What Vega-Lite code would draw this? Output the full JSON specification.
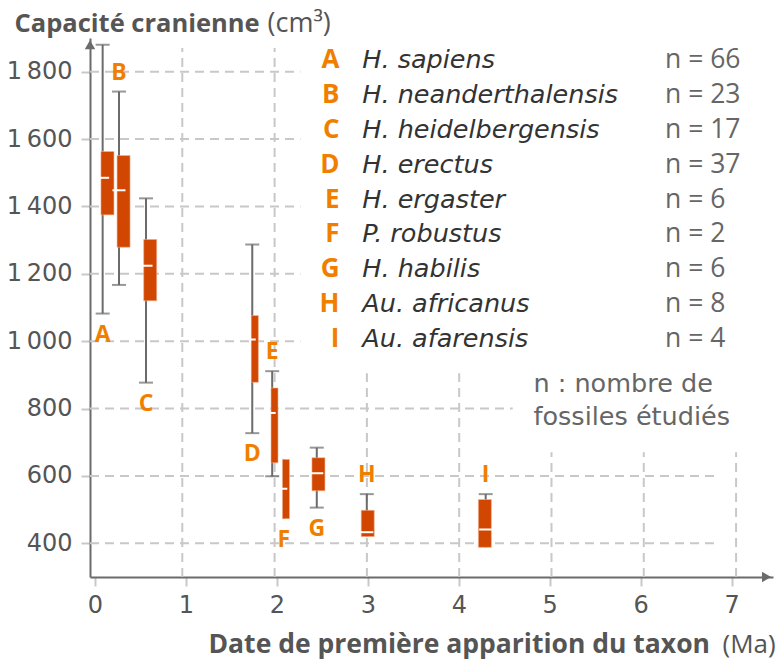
{
  "$schema": "https://vega.github.io/schema/vega-lite/v6.json",
  "width": 683,
  "height": 539,
  "autosize": "none",
  "padding": {"left": 90, "top": 38, "right": 3, "bottom": 88},
  "background": "white",
  "config": {
    "view": {"stroke": null},
    "font": "Open Sans",
    "text": {"font": "Open Sans"}
  },
  "datasets": {
    "boites": [
      {"lettre": "A", "date": 0.137, "min": 1082, "q1": 1375, "mediane": 1485, "q3": 1563, "max": 1880, "place": "dessous", "espace": "normal"},
      {"lettre": "B", "date": 0.314, "min": 1167, "q1": 1279, "mediane": 1448, "q3": 1551, "max": 1741, "place": "dessus", "espace": "normal"},
      {"lettre": "C", "date": 0.607, "min": 877, "q1": 1120, "mediane": 1224, "q3": 1302, "max": 1424, "place": "dessous", "espace": "normal"},
      {"lettre": "D", "date": 1.758, "min": 727, "q1": 878, "mediane": 1005, "q3": 1076, "max": 1287, "place": "dessous", "espace": "serre"},
      {"lettre": "E", "date": 1.974, "min": 599, "q1": 639, "mediane": 787, "q3": 861, "max": 911, "place": "dessus", "espace": "serre"},
      {"lettre": "F", "date": 2.1, "min": 473, "q1": 473, "mediane": 562, "q3": 649, "max": 649, "place": "dessous", "espace": "serre"},
      {"lettre": "G", "date": 2.457, "min": 506, "q1": 556, "mediane": 608, "q3": 654, "max": 684, "place": "dessous", "espace": "normal"},
      {"lettre": "H", "date": 2.999, "min": 420, "q1": 420, "mediane": 433, "q3": 498, "max": 546, "place": "dessus", "espace": "normal"},
      {"lettre": "I", "date": 4.287, "min": 388, "q1": 388, "mediane": 441, "q3": 530, "max": 546, "place": "dessus", "espace": "normal"}
    ],
    "legende": [
      {"lettre": "A", "taxon": "H. sapiens", "effectif": "n = 66"},
      {"lettre": "B", "taxon": "H. neanderthalensis", "effectif": "n = 23"},
      {"lettre": "C", "taxon": "H. heidelbergensis", "effectif": "n = 17"},
      {"lettre": "D", "taxon": "H. erectus", "effectif": "n = 37"},
      {"lettre": "E", "taxon": "H. ergaster", "effectif": "n = 6"},
      {"lettre": "F", "taxon": "P. robustus", "effectif": "n = 2"},
      {"lettre": "G", "taxon": "H. habilis", "effectif": "n = 6"},
      {"lettre": "H", "taxon": "Au. africanus", "effectif": "n = 8"},
      {"lettre": "I", "taxon": "Au. afarensis", "effectif": "n = 4"}
    ],
    "grilleH": [
      {"valeur": 1800, "debut": 0, "fin": 2.28},
      {"valeur": 1600, "debut": 0, "fin": 2.28},
      {"valeur": 1400, "debut": 0, "fin": 2.28},
      {"valeur": 1200, "debut": 0, "fin": 2.28},
      {"valeur": 1000, "debut": 0, "fin": 2.28},
      {"valeur": 800, "debut": 0, "fin": 4.58},
      {"valeur": 600, "debut": 0, "fin": 6.8},
      {"valeur": 400, "debut": 0, "fin": 6.8}
    ],
    "grilleV": [
      {"valeur": 1, "bas": 300, "haut": 1870},
      {"valeur": 2, "bas": 300, "haut": 1870},
      {"valeur": 3, "bas": 300, "haut": 905},
      {"valeur": 4, "bas": 300, "haut": 905},
      {"valeur": 5, "bas": 300, "haut": 670},
      {"valeur": 6, "bas": 300, "haut": 670},
      {"valeur": 7, "bas": 300, "haut": 670}
    ]
  },
  "layer": [
    {
      "data": {"name": "grilleH"},
      "mark": {"type": "rule", "color": "#c8c8c8", "strokeWidth": 2, "strokeDash": [9, 6]},
      "encoding": {
        "x": {"field": "debut", "type": "quantitative", "scale": {"domain": [0, 7.4], "nice": false}, "axis": null},
        "x2": {"field": "fin"},
        "y": {"field": "valeur", "type": "quantitative", "scale": {"domain": [300, 1900], "nice": false}, "axis": null}
      }
    },
    {
      "data": {"name": "grilleV"},
      "mark": {"type": "rule", "color": "#c8c8c8", "strokeWidth": 2, "strokeDash": [9, 6]},
      "encoding": {
        "x": {"field": "valeur", "type": "quantitative", "scale": {"domain": [0, 7.4], "nice": false}, "axis": null},
        "y": {"field": "bas", "type": "quantitative", "scale": {"domain": [300, 1900], "nice": false}, "axis": null},
        "y2": {"field": "haut"}
      }
    },
    {
      "data": {"name": "boites"},
      "mark": {"type": "rule", "color": "#6b6b6b", "strokeWidth": 2},
      "encoding": {
        "x": {"field": "date", "type": "quantitative", "scale": {"domain": [0, 7.4], "nice": false},
          "axis": {"orient": "bottom", "labels": false, "ticks": false, "domain": false, "grid": false,
            "title": "(Ma)", "titleFont": "Open Sans", "titleFontSize": 26, "titleFontWeight": "normal", "titleColor": "#555555",
            "titleAlign": "left", "titleBaseline": "alphabetic", "titleX": 632, "titleY": 75}},
        "y": {"field": "min", "type": "quantitative", "scale": {"domain": [300, 1900], "nice": false},
          "axis": {"orient": "left", "labels": false, "ticks": false, "domain": false, "grid": false,
            "title": "(cm³)", "titleFont": "Open Sans", "titleFontSize": 27, "titleFontWeight": "normal", "titleColor": "#555555",
            "titleAngle": 0, "titleAlign": "left", "titleBaseline": "alphabetic", "titleX": 177, "titleY": -7}},
        "y2": {"field": "max"}
      }
    },
    {
      "data": {"name": "boites"},
      "transform": [{"filter": "datum.max > datum.q3"}],
      "mark": {"type": "tick", "orient": "horizontal", "color": "#6b6b6b", "thickness": 2, "size": 14},
      "encoding": {
        "x": {"field": "date", "type": "quantitative", "scale": {"domain": [0, 7.4], "nice": false}, "axis": null},
        "y": {"field": "max", "type": "quantitative", "scale": {"domain": [300, 1900], "nice": false}, "axis": null}
      }
    },
    {
      "data": {"name": "boites"},
      "transform": [{"filter": "datum.min < datum.q1"}],
      "mark": {"type": "tick", "orient": "horizontal", "color": "#6b6b6b", "thickness": 2, "size": 14},
      "encoding": {
        "x": {"field": "date", "type": "quantitative", "scale": {"domain": [0, 7.4], "nice": false}, "axis": null},
        "y": {"field": "min", "type": "quantitative", "scale": {"domain": [300, 1900], "nice": false}, "axis": null}
      }
    },
    {
      "data": {"name": "boites"},
      "mark": {"type": "bar", "color": "#d14600", "stroke": "#f2b190", "strokeWidth": 0.6},
      "encoding": {
        "x": {"field": "date", "type": "quantitative", "scale": {"domain": [0, 7.4], "nice": false},
          "axis": {"orient": "bottom", "values": [0, 1, 2, 3, 4, 5, 6, 7], "grid": false,
            "domainColor": "#6b6b6b", "domainWidth": 2,
            "tickColor": "#c8c8c8", "tickWidth": 2, "tickSize": 13, "tickDash": [9, 6],
            "labelFont": "DejaVu Sans", "labelFontSize": 24, "labelColor": "#555555", "labelPadding": 3,
            "title": "Date de première apparition du taxon", "titleFont": "Open Sans", "titleFontSize": 26.5,
            "titleFontWeight": "bold", "titleColor": "#555555",
            "titleAlign": "left", "titleBaseline": "alphabetic", "titleX": 118, "titleY": 75}},
        "y": {"field": "q1", "type": "quantitative", "scale": {"domain": [300, 1900], "nice": false},
          "axis": {"orient": "left", "values": [400, 600, 800, 1000, 1200, 1400, 1600, 1800], "grid": false,
            "labelExpr": "datum.value >= 1000 ? replace(format(datum.value, ','), ',', '\u2009') : format(datum.value, 'd')",
            "domainColor": "#6b6b6b", "domainWidth": 2,
            "tickColor": "#c8c8c8", "tickWidth": 2, "tickSize": 11, "tickDash": [9, 6],
            "labelFont": "DejaVu Sans", "labelFontSize": 24, "labelColor": "#555555", "labelPadding": 7,
            "title": "Capacité cranienne", "titleFont": "Open Sans", "titleFontSize": 25.5,
            "titleFontWeight": "bold", "titleColor": "#555555",
            "titleAngle": 0, "titleAlign": "left", "titleBaseline": "alphabetic", "titleX": -76, "titleY": -7}},
        "y2": {"field": "q3"},
        "size": {"field": "espace", "type": "nominal", "scale": {"domain": ["normal", "serre"], "range": [13, 7]}, "legend": null}
      }
    },
    {
      "data": {"name": "boites"},
      "mark": {"type": "tick", "orient": "horizontal", "color": "white", "thickness": 2, "opacity": 1},
      "encoding": {
        "x": {"field": "date", "type": "quantitative", "scale": {"domain": [0, 7.4], "nice": false}, "axis": null},
        "y": {"field": "mediane", "type": "quantitative", "scale": {"domain": [300, 1900], "nice": false}, "axis": null},
        "size": {"field": "espace", "type": "nominal", "scale": {"domain": ["normal", "serre"], "range": [13, 7]}, "legend": null}
      }
    },
    {
      "data": {"name": "boites"},
      "transform": [{"filter": "datum.place == 'dessous'"}],
      "mark": {"type": "text", "color": "#f07f00", "font": "Open Sans", "fontSize": 23, "fontWeight": "bold", "baseline": "middle", "dy": 21},
      "encoding": {
        "x": {"field": "date", "type": "quantitative", "scale": {"domain": [0, 7.4], "nice": false}, "axis": null},
        "y": {"field": "min", "type": "quantitative", "scale": {"domain": [300, 1900], "nice": false}, "axis": null},
        "text": {"field": "lettre", "type": "nominal"}
      }
    },
    {
      "data": {"name": "boites"},
      "transform": [{"filter": "datum.place == 'dessus'"}],
      "mark": {"type": "text", "color": "#f07f00", "font": "Open Sans", "fontSize": 23, "fontWeight": "bold", "baseline": "middle", "dy": -19},
      "encoding": {
        "x": {"field": "date", "type": "quantitative", "scale": {"domain": [0, 7.4], "nice": false}, "axis": null},
        "y": {"field": "max", "type": "quantitative", "scale": {"domain": [300, 1900], "nice": false}, "axis": null},
        "text": {"field": "lettre", "type": "nominal"}
      }
    },
    {
      "data": {"values": [{}]},
      "mark": {"type": "text", "color": "#666666", "font": "DejaVu Sans", "fontSize": 25.5, "align": "left", "baseline": "alphabetic", "lineBreak": "\n", "lineHeight": 33,
        "text": "n : nombre de\nfossiles étudiés"},
      "encoding": {
        "x": {"datum": 4.805, "type": "quantitative", "scale": {"domain": [0, 7.4], "nice": false}, "axis": null},
        "y": {"datum": 849, "type": "quantitative", "scale": {"domain": [300, 1900], "nice": false}, "axis": null}
      }
    },
    {
      "data": {"values": [{}]},
      "mark": {"type": "point", "shape": "triangle-right", "filled": true, "color": "#6b6b6b", "opacity": 1, "size": 110},
      "encoding": {
        "x": {"datum": 7.33, "type": "quantitative", "scale": {"domain": [0, 7.4], "nice": false}, "axis": null},
        "y": {"datum": 300, "type": "quantitative", "scale": {"domain": [300, 1900], "nice": false}, "axis": null}
      }
    },
    {
      "data": {"values": [{}]},
      "mark": {"type": "point", "shape": "triangle-up", "filled": true, "color": "#6b6b6b", "opacity": 1, "size": 110},
      "encoding": {
        "x": {"datum": 0, "type": "quantitative", "scale": {"domain": [0, 7.4], "nice": false}, "axis": null},
        "y": {"datum": 1880, "type": "quantitative", "scale": {"domain": [300, 1900], "nice": false}, "axis": null}
      }
    },
    {
      "data": {"name": "legende"},
      "mark": {"type": "text", "align": "right", "baseline": "alphabetic", "font": "Open Sans", "fontSize": 26, "fontWeight": "bold", "color": "#f07f00"},
      "encoding": {
        "x": {"datum": 2.703, "type": "quantitative", "scale": {"domain": [0, 7.4], "nice": false}, "axis": null},
        "y": {"field": "lettre", "type": "ordinal", "scale": {"type": "point", "range": [30.3, 308.7], "padding": 0}, "axis": null},
        "text": {"field": "lettre", "type": "nominal"}
      }
    },
    {
      "data": {"name": "legende"},
      "mark": {"type": "text", "align": "left", "baseline": "alphabetic", "font": "DejaVu Sans", "fontSize": 25.5, "fontStyle": "italic", "color": "#333333"},
      "encoding": {
        "x": {"datum": 2.95, "type": "quantitative", "scale": {"domain": [0, 7.4], "nice": false}, "axis": null},
        "y": {"field": "lettre", "type": "ordinal", "scale": {"type": "point", "range": [30.3, 308.7], "padding": 0}, "axis": null},
        "text": {"field": "taxon", "type": "nominal"}
      }
    },
    {
      "data": {"name": "legende"},
      "mark": {"type": "text", "align": "left", "baseline": "alphabetic", "font": "Open Sans", "fontSize": 26.5, "color": "#666666"},
      "encoding": {
        "x": {"datum": 6.23, "type": "quantitative", "scale": {"domain": [0, 7.4], "nice": false}, "axis": null},
        "y": {"field": "lettre", "type": "ordinal", "scale": {"type": "point", "range": [30.3, 308.7], "padding": 0}, "axis": null},
        "text": {"field": "effectif", "type": "nominal"}
      }
    }
  ],
  "resolve": {"scale": {"x": "independent", "y": "independent"}}
}
